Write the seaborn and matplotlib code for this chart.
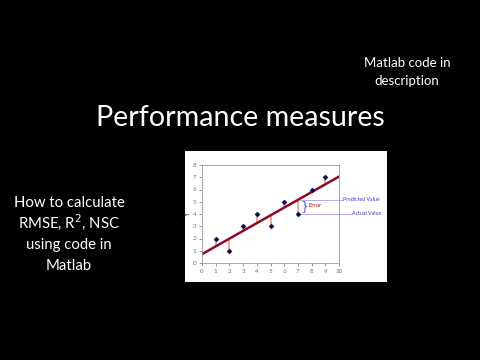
import numpy as np
import pandas as pd
import matplotlib
matplotlib.use("Agg")
import matplotlib.pyplot as plt
import seaborn as sns
from matplotlib.patches import Rectangle

# data
x_vals = [1, 2, 3, 4, 5, 6, 7, 8, 9]
y_vals = [2, 1, 3, 4, 3, 5, 4, 6, 7]
x_ticks = [0, 1, 2, 3, 4, 5, 6, 7, 8, 9, 10]
y_ticks = [0, 1, 2, 3, 4, 5, 6, 7, 8]
error_point = 7  # the point used to show the error

df = pd.DataFrame({"x": x_vals, "y": y_vals})

sns.set_style("white")
plt.rcParams["font.family"] = ["Lato", "DejaVu Sans"]

fig = plt.figure(figsize=(4.8, 3.6), dpi=100)
fig.patch.set_facecolor("black")

# text on the black slide
fig.text(0.5, 0.672, "Performance measures", color="white", fontsize=20.6,
         ha="center", va="center")
fig.text(0.848, 0.825, "Matlab code in", color="white", fontsize=9.5, ha="center", va="center")
fig.text(0.848, 0.775, "description", color="white", fontsize=9.5, ha="center", va="center")
left_lines = ["How to calculate", "RMSE, R$^2$, NSC", "using code in", "Matlab"]
left_y = [203, 222, 245, 266]
for txt, yy in zip(left_lines, left_y):
    fig.text(0.144, 1 - yy / 360, txt, color="white", fontsize=10.7, ha="center", va="center")

# white panel behind the inset
fig.add_artist(Rectangle((185 / 480, 1 - 282 / 360), 202 / 480, 131 / 360,
                         transform=fig.transFigure, facecolor="white", edgecolor="none", zorder=0))

ax = fig.add_axes([202 / 480, 1 - 263 / 360, 137 / 480, 98 / 360])
ax.set_facecolor("white")
ax.set_xlim(0, 10)
ax.set_ylim(0, 8)

sns.regplot(data=df, x="x", y="y", ci=None, truncate=False, ax=ax, scatter=False,
            line_kws={"color": "#8b0a26", "lw": 1.8, "zorder": 2})
slope, icpt = np.polyfit(x_vals, y_vals, 1)
pred = [slope * xv + icpt for xv in x_vals]

# error lines from each point up/down to the fitted line
for xv, yv, pv in zip(x_vals, y_vals, pred):
    ax.plot([xv, xv], [yv, pv], color="#f09070", lw=1.1, zorder=1.5)

sns.scatterplot(data=df, x="x", y="y", ax=ax, marker="D", s=7, color="#0a0a50",
                edgecolor="#0a0a50", zorder=3)

# predicted / actual annotation
i = x_vals.index(error_point)
p_val, a_val = pred[i], y_vals[i]
ax.plot([7.15, 10.3], [p_val, p_val], color="#9090f0", lw=0.5, clip_on=False)
ax.plot([7.15, 10.95], [a_val, a_val], color="#9090f0", lw=0.5, clip_on=False)
ax.text(7.15, (p_val + a_val) / 2, "}", color="#6060d0", fontsize=9, va="center", ha="left",
        family="DejaVu Sans")
ax.text(7.75, (p_val + a_val) / 2 + 0.1, "Error", color="#a01020", fontsize=4.2, va="center")
ax.text(10.32, p_val, "Predicted Value", color="#4040c0", fontsize=3.8, va="center", clip_on=False)
ax.text(10.97, a_val, "Actual Value", color="#4040c0", fontsize=3.8, va="center", clip_on=False)

ax.set_xticks(x_ticks)
ax.set_yticks(y_ticks)
ax.tick_params(labelsize=4.5, colors="#707070", length=2, width=0.5, pad=2, bottom=True, left=True)
for sp in ax.spines.values():
    sp.set_color("#a09898")
    sp.set_linewidth(0.6)
ax.set_xlabel("")
ax.set_ylabel("Y", fontsize=5, color="#402020", labelpad=1)

fig.savefig("out.png", dpi=100, facecolor="black")
